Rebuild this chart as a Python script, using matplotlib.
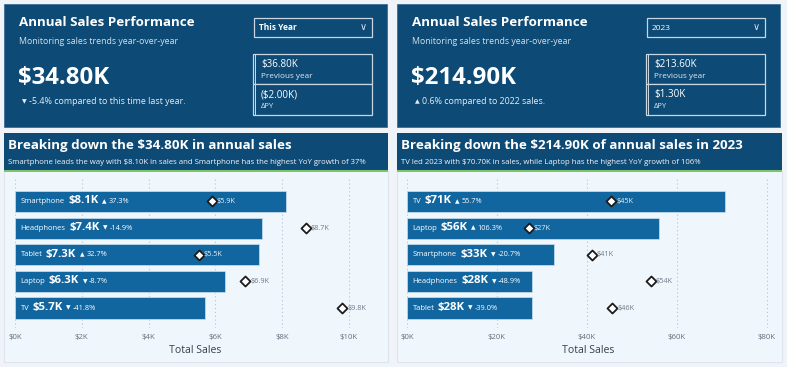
import matplotlib
matplotlib.use("Agg")
import matplotlib.pyplot as plt
from matplotlib.patches import Rectangle

plt.rcParams['font.family'] = ['Open Sans', 'DejaVu Sans']

# ---------------- data ----------------
left_cats = ['Smartphone', 'Headphones', 'Tablet', 'Laptop', 'TV']
left_sales = [8.1, 7.4, 7.3, 6.3, 5.7]          # $K
left_py = [5.9, 8.7, 5.5, 6.9, 9.8]             # $K
left_yoy = [37.3, -14.9, 32.7, -8.7, -41.8]     # %
left_ticks = [0, 2, 4, 6, 8, 10]

right_cats = ['TV', 'Laptop', 'Smartphone', 'Headphones', 'Tablet']
right_sales = [70.7, 55.9, 32.6, 27.7, 27.8]
right_py = [45.4, 27.1, 41.0, 54.2, 45.6]
right_yoy = [55.7, 106.3, -20.7, -48.9, -39.0]
right_ticks = [0, 20, 40, 60, 80]

left_kpi = dict(total='$34.80K', py='$36.80K', dpy='($2.00K)', filt='This Year',
                comp='-5.4% compared to this time last year.', up=False,
                title='Breaking down the $34.80K in annual sales',
                sub='Smartphone leads the way with $8.10K in sales and Smartphone has the highest YoY growth of 37%')
right_kpi = dict(total='$214.90K', py='$213.60K', dpy='$1.30K', filt='2023',
                 comp='0.6% compared to 2022 sales.', up=True,
                 title='Breaking down the $214.90K of annual sales in 2023',
                 sub='TV led 2023 with $70.70K in sales, while Laptop has the highest YoY growth of 106%')

# ---------------- style ----------------
W, H = 787, 367
PAGE = '#f0f3f7'
CARD = '#0d4a75'
BAR = '#1166a0'
PANEL = '#eff6fc'
GREEN = '#7cc46a'

fig = plt.figure(figsize=(W / 100, H / 100), dpi=100)
fig.patch.set_facecolor(PAGE)


def rect(x0, y0, x1, y1, fc, ec='none', lw=0, z=-5):
    r = Rectangle((x0 / W, 1 - y1 / H), (x1 - x0) / W, (y1 - y0) / H,
                  transform=fig.transFigure, facecolor=fc, edgecolor=ec,
                  linewidth=lw, zorder=z)
    fig.patches.append(r)
    return r


def txt(x, y, s, **kw):
    kw.setdefault('va', 'center')
    kw.setdefault('ha', 'left')
    kw.setdefault('color', 'white')
    return fig.text(x / W, 1 - y / H, s, **kw)


def card(x0, x1, k, selbold):
    # top card
    rect(x0, 4, x1, 127, CARD, ec='#3d6f95', lw=0.6)
    txt(x0 + 15, 22.5, 'Annual Sales Performance', fontsize=9.6, fontweight='bold')
    txt(x0 + 15, 42, 'Monitoring sales trends year-over-year', fontsize=6.3, color='#d5e1ec')
    txt(x0 + 14, 78, k['total'], fontsize=17.3, fontweight='bold')
    arrow = '\u25B2' if k['up'] else '\u25BC'
    txt(x0 + 18, 101.5, arrow, fontsize=4.4, color='#e6eef5')
    txt(x0 + 25, 101, k['comp'], fontsize=6.4, color='#e6eef5')
    # dropdown
    dx0 = x0 + 250
    rect(dx0, 18, dx0 + 118, 37, CARD, ec='#c9d5e1', lw=0.9, z=-4)
    txt(dx0 + 5, 28, k['filt'], fontsize=6, fontweight='bold' if selbold else 'normal')
    txt(dx0 + 109, 27, '\u2228', fontsize=7, color='#d8e2ec', ha='center')
    # kpi boxes
    bx0, bx1 = dx0 - 1, dx0 + 118
    rect(bx0, 54, bx1, 84, CARD, ec='#c9d5e1', lw=0.9, z=-4)
    rect(bx0, 84, bx1, 115, CARD, ec='#c9d5e1', lw=0.9, z=-4)
    rect(bx0 + 1.5, 54, bx0 + 3, 115, '#c9d5e1', z=-3)
    txt(bx0 + 8, 64, k['py'], fontsize=7.1)
    txt(bx0 + 8, 76, 'Previous year', fontsize=5.9, color='#e3ebf3')
    txt(bx0 + 8, 95, k['dpy'], fontsize=7.1)
    txt(bx0 + 8, 107, '\u0394PY', fontsize=5.5, color='#e3ebf3')


def chart(x0, x1, ax_l, ax_r, xmax, cats, sales, py, yoy, ticks, k, dec):
    rect(x0, 171, x1, 362, PANEL, ec='#dde5ee', lw=0.8)
    rect(x0, 133, x1, 171, CARD)
    rect(x0, 170, x1, 172, GREEN, z=-4)
    txt(x0 + 4, 146, k['title'], fontsize=9.6, fontweight='bold')
    txt(x0 + 4, 163, k['sub'], fontsize=5.55, color='#f2f6fa')

    ax = fig.add_axes([ax_l / W, 1 - 328 / H, (ax_r - ax_l) / W, (328 - 178) / H])
    ax.patch.set_alpha(0)
    ax.set_xlim(0, xmax)
    ax.set_ylim(4.75, -0.88)
    y = list(range(len(cats)))
    ax.barh(y, sales, height=0.79, color=BAR, edgecolor='#cfe0ee', linewidth=0.5, zorder=2)
    ax.scatter(py, y, marker='D', s=26, facecolor='white', edgecolor='#1b1b1b',
               linewidth=1.3, zorder=4)
    for i in y:
        inside = py[i] < sales[i]
        ax.annotate('$%.*fK' % (dec, py[i]), xy=(py[i], i), xytext=(3.5, 0),
                    textcoords='offset points', va='center', ha='left', fontsize=5.2,
                    color='#e8f0f7' if inside else '#6f7b88', zorder=5)
        t1 = ax.annotate(cats[i], xy=(0, i), xytext=(4, 0), textcoords='offset points',
                         va='center', ha='left', fontsize=5.5, color='white', zorder=5)
        t2 = ax.annotate('$%.*fK' % (dec, sales[i]), xy=(1, 0.5), xycoords=t1,
                         xytext=(2.5, 0.4), textcoords='offset points', va='center',
                         ha='left', fontsize=8.2, fontweight='bold', color='white', zorder=5)
        arrow = '\u25B2' if yoy[i] >= 0 else '\u25BC'
        t3 = ax.annotate(arrow, xy=(1, 0.5), xycoords=t2, xytext=(2.5, -0.4),
                         textcoords='offset points', va='center', ha='left',
                         fontsize=4.2, color='white', zorder=5)
        ax.annotate('%.1f%%' % yoy[i], xy=(1, 0.5), xycoords=t3, xytext=(1.5, 0),
                    textcoords='offset points', va='center', ha='left',
                    fontsize=5.3, color='white', zorder=5)
    ax.set_xticks(ticks)
    ax.set_xticklabels(['$%dK' % t for t in ticks])
    ax.set_yticks([])
    ax.tick_params(axis='x', length=0, pad=4, labelsize=5.6, labelcolor='#66717d')
    for s in ax.spines.values():
        s.set_visible(False)
    ax.grid(axis='x', color='#b9c3cd', linestyle=(0, (1, 2.5)), linewidth=0.8, zorder=0)
    ax.set_axisbelow(True)
    ax.set_xlabel('Total Sales', fontsize=7.6, color='#36404c', labelpad=3.5)


card(4, 387, left_kpi, True)
card(397, 780, right_kpi, False)
chart(4, 388, 15, 375, 360 / 33.4, left_cats, left_sales, left_py, left_yoy, left_ticks,
      left_kpi, 1)
chart(397, 782, 407, 770, 363 / 4.5, right_cats, right_sales, right_py, right_yoy,
      right_ticks, right_kpi, 0)

fig.savefig('out.png', dpi=100, facecolor=PAGE)
